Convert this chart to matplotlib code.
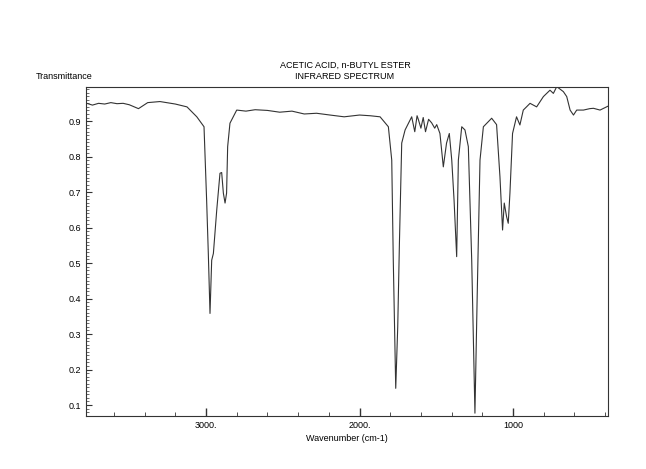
import matplotlib
matplotlib.use("Agg")
import matplotlib.pyplot as plt
from matplotlib.ticker import MultipleLocator

# (wavenumber cm-1, transmittance)
wavenumber = [3777, 3740, 3700, 3660, 3620, 3580, 3540, 3500, 3440, 3380, 3300, 3200, 3124,
              3060, 3013, 2996, 2985, 2974, 2963, 2952, 2930, 2909, 2898, 2887, 2876, 2866,
              2859, 2844, 2800, 2740, 2680, 2600, 2520, 2440, 2360, 2280, 2192, 2100, 2000,
              1930, 1866, 1812, 1790, 1780, 1764, 1751, 1740, 1725, 1703, 1660, 1640, 1625,
              1617, 1600, 1585, 1570, 1550, 1530, 1510, 1497, 1476, 1454, 1433, 1415, 1399,
              1384, 1367, 1356, 1334, 1313, 1291, 1269, 1248, 1233, 1215, 1193, 1139, 1107,
              1085, 1068, 1057, 1042, 1031, 1020, 1003, 977, 955, 933, 912, 889, 846, 802,
              759, 737, 715, 672, 650, 628, 606, 585, 541, 500, 476, 433, 381]
transmittance = [0.95, 0.945, 0.95, 0.948, 0.952, 0.949, 0.95, 0.946, 0.935, 0.952, 0.955,
                 0.948, 0.94, 0.912, 0.884, 0.677, 0.527, 0.358, 0.508, 0.527, 0.65, 0.753,
                 0.755, 0.697, 0.669, 0.697, 0.828, 0.894, 0.931, 0.928, 0.932, 0.93, 0.925,
                 0.928, 0.92, 0.922, 0.917, 0.912, 0.917, 0.915, 0.912, 0.884, 0.79, 0.508,
                 0.147, 0.32, 0.556, 0.838, 0.875, 0.912, 0.87, 0.915, 0.905, 0.88, 0.91,
                 0.87, 0.905, 0.895, 0.88, 0.89, 0.865, 0.771, 0.838, 0.865, 0.79, 0.677,
                 0.518, 0.79, 0.884, 0.875, 0.828, 0.508, 0.077, 0.414, 0.79, 0.884, 0.908,
                 0.89, 0.743, 0.593, 0.669, 0.631, 0.612, 0.697, 0.865, 0.912, 0.889, 0.931,
                 0.94, 0.95, 0.94, 0.969, 0.987, 0.978, 0.997, 0.983, 0.969, 0.931, 0.917,
                 0.931, 0.931, 0.935, 0.936, 0.931, 0.942]

plt.rcParams["font.family"] = ["Liberation Sans", "DejaVu Sans"]
fig = plt.figure(figsize=(6.46, 4.69), dpi=100)
ax = fig.add_axes([0.1331, 0.113, 0.8081, 0.7015])
ax.plot(wavenumber, transmittance, color="#333333", linewidth=0.8)
ax.set_xlim(3782, 381)
ax.set_ylim(0.069, 0.996)

ax.set_xticks([3000, 2000, 1000])
ax.set_xticklabels(["3000.", "2000.", "1000"])
ax.xaxis.set_minor_locator(MultipleLocator(200))
ax.set_yticks([0.1, 0.2, 0.3, 0.4, 0.5, 0.6, 0.7, 0.8, 0.9])
ax.set_yticklabels([f"{v:.1f}" for v in [0.1, 0.2, 0.3, 0.4, 0.5, 0.6, 0.7, 0.8, 0.9]])
ax.yaxis.set_minor_locator(MultipleLocator(0.01))
ax.tick_params(axis="both", which="both", direction="in", labelsize=6.5, color="#333333")
ax.tick_params(axis="x", which="major", length=6, width=1)
ax.tick_params(axis="x", which="minor", length=3)
ax.tick_params(axis="y", which="major", length=4)
ax.tick_params(axis="y", which="minor", length=2, width=0.5)
for s in ax.spines.values():
    s.set_color("#333333")
    s.set_linewidth(0.8)

fig.text(0.534, 0.855, "ACETIC ACID, n-BUTYL ESTER", ha="center", fontsize=6.5)
fig.text(0.534, 0.832, "INFRARED SPECTRUM", ha="center", fontsize=6.5)
fig.text(0.1, 0.832, "Transmittance", ha="center", fontsize=6.5)
ax.set_xlabel("Wavenumber (cm-1)", fontsize=6.5, labelpad=3)

fig.savefig("out.png", dpi=100)
